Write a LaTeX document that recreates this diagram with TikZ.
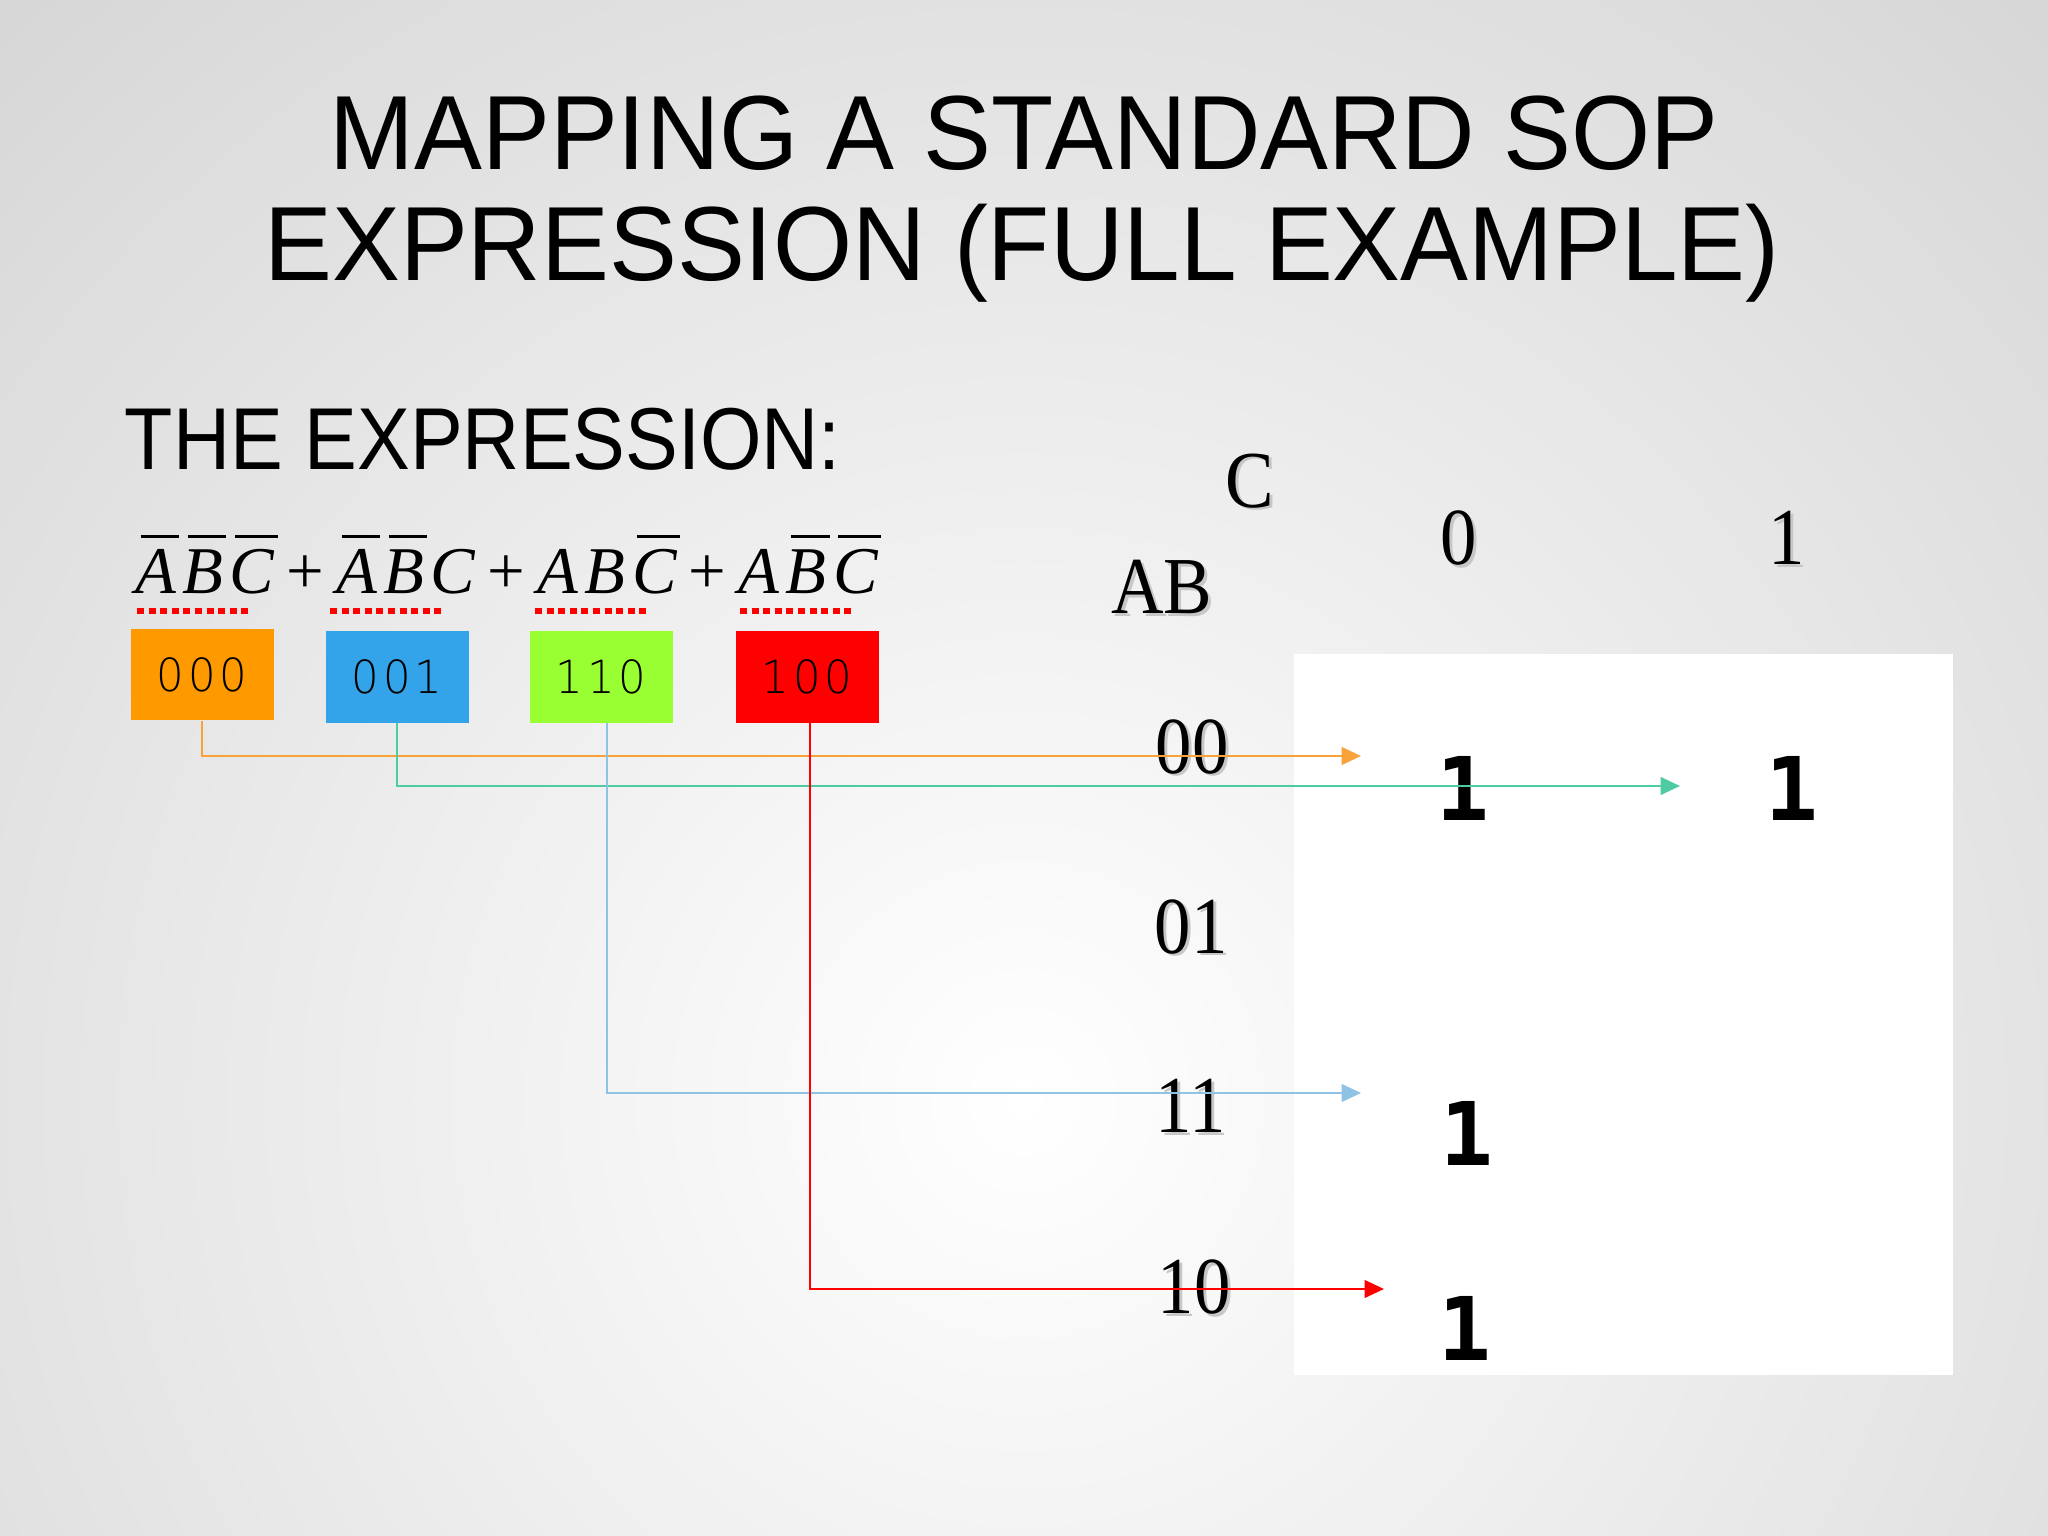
\documentclass[tikz,border=0pt]{standalone}
\usepackage{fontspec}
\setmainfont{Liberation Sans}
\newfontfamily\titlefont[FakeStretch=0.965]{Liberation Sans}
\newfontfamily\headfont[FakeStretch=0.9]{Liberation Sans}
\newfontfamily\exprfont{Liberation Serif}
\newfontfamily\kmapfont[FakeStretch=0.9]{Liberation Serif}
\newfontfamily\cellfont{DejaVu Sans Mono}
\newfontfamily\codefont[FakeStretch=0.95,LetterSpace=8]{DejaVu Sans ExtraLight}
\usetikzlibrary{arrows.meta}

\definecolor{mtorange}{HTML}{FF9900}
\definecolor{mtblue}{HTML}{33A3EA}
\definecolor{mtgreen}{HTML}{99FF33}
\definecolor{mtred}{HTML}{FF0000}
\definecolor{lnorange}{HTML}{F9A23A}
\definecolor{lnteal}{HTML}{4FCBA3}
\definecolor{lnsky}{HTML}{8EC3E6}

% letter with its own bar
\newcommand\nbar[1]{\setbox0\hbox{#1}%
  \rlap{\kern0.12\wd0\raise\dimexpr\ht0+3.4pt\relax\hbox{\vrule height 0.85pt width 0.95\wd0}}\box0}
\newcommand\gap{\kern1.8pt}
\newcommand\plus{\kern3.5pt{\upshape +}\kern3.5pt}

\tikzset{
  title/.style={font=\titlefont\fontsize{30}{30}\selectfont, inner sep=0pt},
  subtitle/.style={font=\headfont\fontsize{25}{25}\selectfont, inner sep=0pt},
  expression/.style={font=\exprfont\itshape\fontsize{19}{19}\selectfont, inner sep=0pt},
  codebox/.style={minimum width=1.43cm, minimum height=0.91cm, inner sep=0pt,
    font=\codefont\fontsize{13}{13}\selectfont},
  kmlabel/.style={font=\kmapfont\fontsize{23}{23}\selectfont, inner sep=0pt},
  kmshadow/.style={kmlabel, text=black!22},
  cellone/.style={font=\cellfont\bfseries\fontsize{25}{25}\selectfont, inner sep=0pt},
  maparrow/.style={line width=0.7pt, -{Triangle[length=5.5pt,width=5pt]}},
  underdots/.style={mtred, line width=1.5pt, dash pattern=on 2pt off 1.3pt},
}

\begin{document}
\begin{tikzpicture}
    \useasboundingbox (0,0) rectangle (20.48,-15.36);

    % background
    \begin{scope}
        \clip (0,0) rectangle (20.48,-15.36);
        \shade [inner color=white, outer color=black!36] (10.24,-11.0) circle (34);
    \end{scope}
    \fill [white] (12.94,-6.54) rectangle (19.53,-13.75);

    \node [title, anchor=base] (title1) at (10.24,-1.70) {MAPPING A STANDARD SOP};
    \node [title, anchor=base] (title2) at (10.22,-2.81) {EXPRESSION (FULL EXAMPLE)};
    \node [subtitle, anchor=base west] (exprhead) at (1.24,-4.70) {THE EXPRESSION:};

    % the expression
    \node [expression, anchor=base west] (expr) at (1.35,-5.94)
        {\nbar{A}\gap\nbar{B}\gap\nbar{C}\plus\nbar{A}\gap\nbar{B}\gap C\plus A\gap B\gap\nbar{C}\plus A\gap\nbar{B}\gap\nbar{C}};

    \draw [underdots] (1.37,-6.11) -- (2.50,-6.11);
    \draw [underdots] (3.30,-6.11) -- (4.42,-6.11);
    \draw [underdots] (5.35,-6.11) -- (6.46,-6.11);
    \draw [underdots] (7.40,-6.11) -- (8.52,-6.11);

    \node [codebox, fill=mtorange] (b000) at (2.02,-6.75) {000};
    \node [codebox, fill=mtblue] (b001) at (3.97,-6.77) {001};
    \node [codebox, fill=mtgreen] (b110) at (6.01,-6.77) {110};
    \node [codebox, fill=mtred] (b100) at (8.07,-6.77) {100};

    % map labels
    \foreach \name/\txt/\x/\y in {lc/C/12.50/-5.07, lab/AB/11.62/-6.14, c0/0/14.59/-5.65, c1/1/17.87/-5.65,
            r00/00/11.92/-7.73, r01/01/11.91/-9.53, r11/11/11.91/-11.32, r10/10/11.94/-13.13} {
        \node [kmshadow, anchor=base] (\name s) at (\x+0.03,\y-0.03) {\txt};
        \node [kmlabel, anchor=base] (\name) at (\x,\y) {\txt};
    }

    \node [cellone, anchor=base] (m000) at (14.63,-8.20) {1};
    \node [cellone, anchor=base] (m001) at (17.92,-8.20) {1};
    \node [cellone, anchor=base] (m110) at (14.67,-11.65) {1};
    \node [cellone, anchor=base] (m100) at (14.65,-13.60) {1};

    % connectors
    \coordinate (e000) at (13.61,-7.56);
    \coordinate (e001) at (16.80,-7.86);
    \coordinate (e110) at (13.61,-10.93);
    \coordinate (e100) at (13.84,-12.89);
    \draw [maparrow, lnorange] (b000.south) |- (e000);
    \draw [maparrow, lnteal] (b001.south) |- (e001);
    \draw [maparrow, lnsky] ([xshift=0.06cm]b110.south) |- (e110);
    \draw [maparrow, mtred] ([xshift=0.03cm]b100.south) |- (e100);

\end{tikzpicture}
\end{document}
